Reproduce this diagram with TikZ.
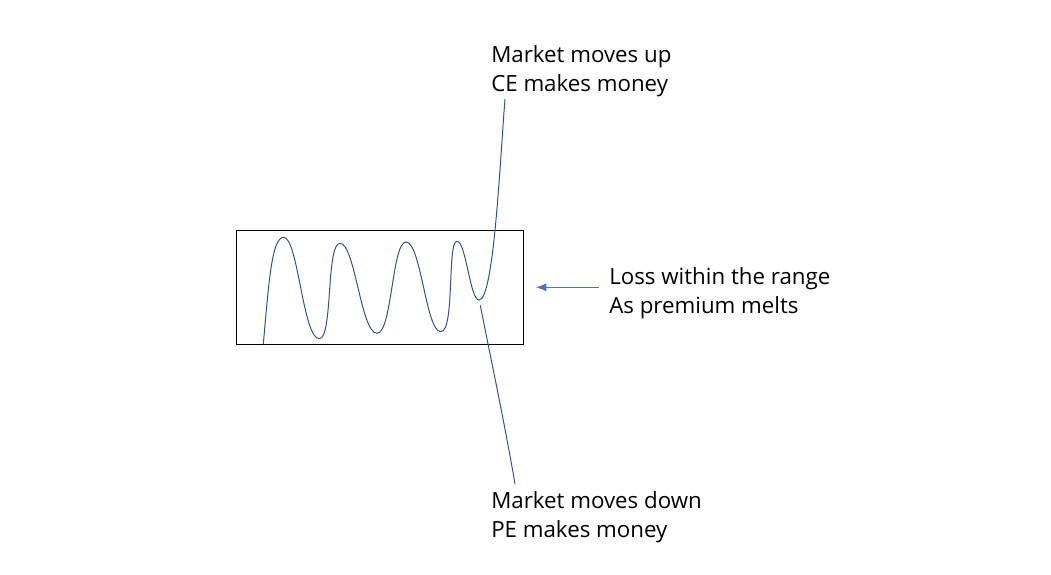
\documentclass[tikz,border=0pt]{standalone}
\usepackage{fontspec}
\setmainfont{Open Sans}
\usetikzlibrary{arrows.meta,positioning}
\definecolor{wave}{RGB}{47,82,143}
\definecolor{pointer}{RGB}{68,114,196}
\tikzset{
	label/.style={inner sep=0pt,align=left,anchor=north west,font=\fontsize{15.85pt}{21.3pt}\selectfont},
}
\begin{document}
\begin{tikzpicture}[x=0.025cm,y=-0.025cm]
	\useasboundingbox (0,0) rectangle (1051,574);
	\node [draw,line width=0.7pt,inner sep=0pt,anchor=north west,minimum width=7.175cm,minimum height=2.85cm] (range) at (235.8,229.8) {};
	\node [label] (up) at (491,44.8) {Market moves up\\CE makes money};
	\node [label] (down) at (491,490.8) {Market moves down\\PE makes money};
	\node [label] (loss) at (609,266.8) {Loss within the range\\As premium melts};
	% premium wave, then the break out upwards
	\draw [wave,line width=0.7pt] (263.3,344) .. controls (269,280) and (272,237.3) .. (283.7,237.3)
		.. controls (298,237.3) and (303,338.7) .. (319.3,338.7)
		.. controls (333,338.7) and (326,243.3) .. (340,243.3)
		.. controls (355,243.3) and (361,333.3) .. (377,333.3)
		.. controls (392,333.3) and (392,242) .. (406,242)
		.. controls (421,242) and (426,331.7) .. (440.7,331.7)
		.. controls (455,331.7) and (447,241.3) .. (457,241.3)
		.. controls (466,241.3) and (470,300) .. (479,300)
		.. controls (494,300) and (500,160) .. (505,99);
	\draw [wave,line width=0.7pt] (480.3,305.3) .. controls (490,355) and (505,425) .. (515,484);
	\draw [pointer,line width=0.7pt,-{Latex[length=2.6mm,width=2mm]}] ([xshift=-0.25cm]loss.west |- range.east) -- ([xshift=0.3cm]range.east);
\end{tikzpicture}
\end{document}
